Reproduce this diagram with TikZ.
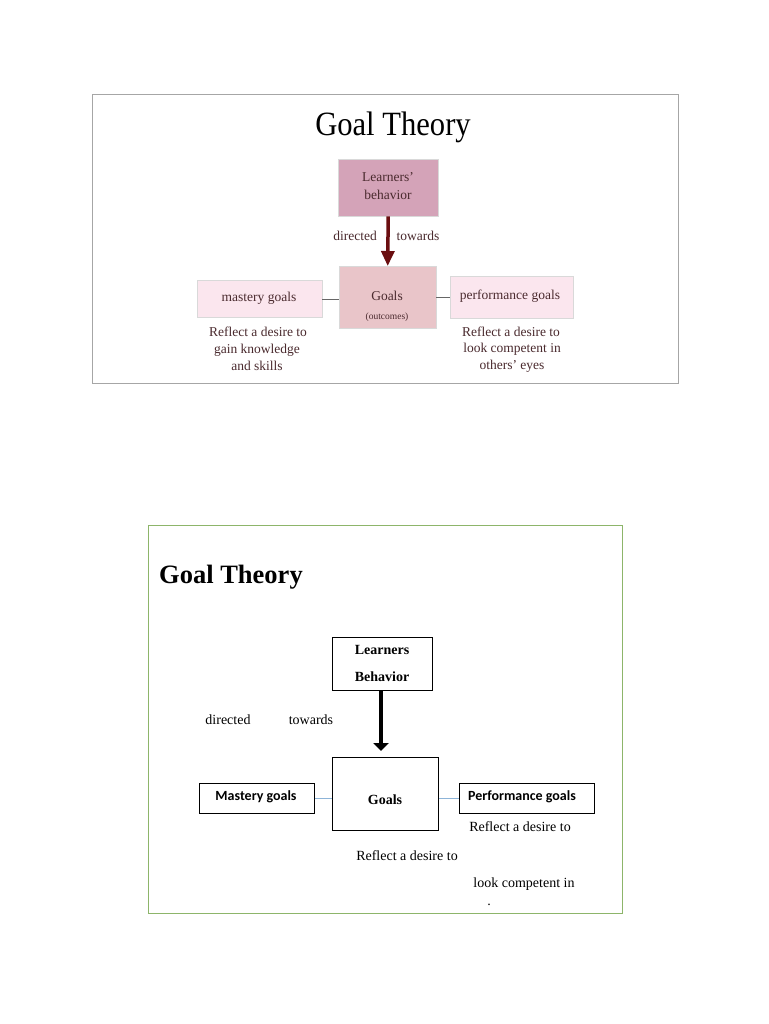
\documentclass[tikz,border=0pt]{standalone}
\usepackage{fontspec}
\setmainfont{Liberation Serif}
\newfontfamily\carl{Carlito}
\usetikzlibrary{arrows.meta}
\definecolor{pinkA}{HTML}{D4A3B8}
\definecolor{pinkB}{HTML}{E9C5C9}
\definecolor{pinkC}{HTML}{FBE6EE}
\definecolor{txtA}{HTML}{4A2A2E}
\definecolor{darkred}{HTML}{6A0E10}
\definecolor{greenF}{HTML}{8DB56A}
\definecolor{blueL}{HTML}{8DB4D8}
\tikzset{x=1pt,y=-1pt,
 tbox/.style={draw=black!15,text=txtA,inner sep=0},
 bbox/.style={draw=black,line width=0.9pt,fill=white},
 ttxt/.style={text=txtA,font=\fontsize{13.5}{14}\selectfont,inner sep=0},
 btxt/.style={font=\fontsize{14}{15}\selectfont,inner sep=0}}
\begin{document}
\begin{tikzpicture}
\useasboundingbox[fill=white] (0,0) rectangle (768,1024);
% top
\node[draw=black!35,line width=0.8pt,minimum width=586,minimum height=289,anchor=north west] (f1) at (92,94) {};
\node[font=\fontsize{34}{36}\selectfont,inner sep=0,xscale=0.9] (t1) at (393,127) {Goal Theory};
\node[tbox,fill=pinkA,minimum width=100,minimum height=57,anchor=north west] (lb) at (338,159) {};
\node[ttxt] (lb1) at (388,177) {Learners'};
\node[ttxt] (lb2) at (388,195) {behavior};
\node[tbox,fill=pinkB,minimum width=97,minimum height=62,anchor=north west] (g) at (339,266) {};
\node[ttxt] (g1) at (387,296) {Goals};
\node[ttxt,font=\fontsize{9.5}{10}\selectfont] (g2) at (387,317) {(outcomes)};
\draw[darkred,line width=3.5pt,-{Triangle[length=15pt,width=13pt]}] (lb.south) -- (g.north);
\node[ttxt] (d1) at (355,236) {directed};
\node[ttxt] (d2) at (418,236) {towards};
\node[tbox,fill=pinkC,minimum width=125,minimum height=37,anchor=north west] (m) at (197,280) {};
\node[ttxt] (m1) at (259,298) {mastery goals};
\node[tbox,fill=pinkC,minimum width=123,minimum height=42,anchor=north west] (p) at (450,276) {};
\node[ttxt] (p1) at (510,296) {performance goals};
\draw[black!60] (m.east) -- (g.west |- m.east);
\draw[black!60] (g.east |- p.west) -- (p.west);
\node[ttxt] (ml1) at (258,332) {Reflect a desire to};
\node[ttxt] (ml2) at (257,350) {gain knowledge};
\node[ttxt] (ml3) at (257,366) {and skills};
\node[ttxt] (pl1) at (511,332) {Reflect a desire to};
\node[ttxt] (pl2) at (512,349) {look competent in};
\node[ttxt] (pl3) at (512,366) {others' eyes};
% bottom
\node[draw=greenF,line width=1pt,minimum width=474,minimum height=388,anchor=north west] (f2) at (148,525) {};
\node[font=\bfseries\fontsize{26.5}{28}\selectfont,inner sep=0,anchor=west] (t2) at (159,577) {Goal Theory};
\node[bbox,minimum width=100,minimum height=53,anchor=north west] (lb') at (332,637) {};
\node[btxt,font=\bfseries\fontsize{14}{15}\selectfont] (lb'1) at (382,650) {Learners};
\node[btxt,font=\bfseries\fontsize{14}{15}\selectfont] (lb'2) at (382,677) {Behavior};
\node[bbox,minimum width=106,minimum height=73,anchor=north west] (g') at (332,757) {};
\node[btxt,font=\bfseries\fontsize{14}{15}\selectfont] (g'1) at (385,800) {Goals};
\coordinate (a1) at (381,690);
\coordinate (a2) at (381,751);
\draw[line width=4.5pt,-{Triangle[length=8pt,width=15pt]}] (a1) -- (a2);
\node[btxt] (d'1) at (228,720) {directed};
\node[btxt] (d'2) at (311,720) {towards};
\node[bbox,minimum width=115,minimum height=30,anchor=north west] (m') at (199,783) {};
\node[btxt,font=\carl\bfseries\fontsize{14}{15}\selectfont] (m'1) at (256,797) {Mastery goals};
\node[bbox,minimum width=135,minimum height=30,anchor=north west] (p') at (459,783) {};
\node[btxt,font=\carl\bfseries\fontsize{14}{15}\selectfont] (p'1) at (522,797) {Performance goals};
\draw[blueL,line width=0.8pt] (m'.east) -- (g'.west |- m'.east);
\draw[blueL,line width=0.8pt] (g'.east |- p'.west) -- (p'.west);
\node[btxt] (r1) at (520,827) {Reflect a desire to};
\node[btxt] (r2) at (407,856) {Reflect a desire to};
\node[btxt] (r3) at (524,884) {look competent in};
\node[btxt] (r4) at (489,905) {.};
\end{tikzpicture}
\end{document}
